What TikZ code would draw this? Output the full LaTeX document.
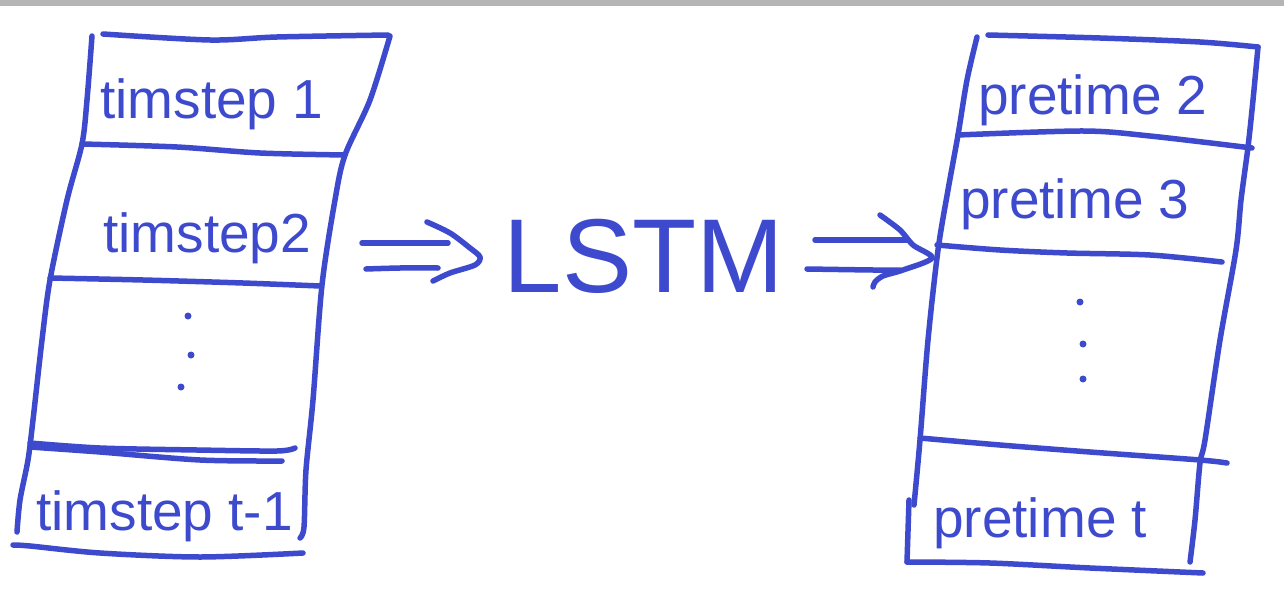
\documentclass[tikz,border=0pt]{standalone}
\usepackage{fontspec}
\setmainfont{Liberation Sans}
\definecolor{pen}{RGB}{62,74,206}
\definecolor{bar}{RGB}{180,181,180}
\tikzset{
  ink/.style={draw=pen, line width=5.5pt, line cap=round, line join=round},
  lbl/.style={text=pen, inner sep=0pt, anchor=base west, font=\fontsize{55}{60}\selectfont},
  bigword/.style={text=pen, inner sep=0pt, anchor=base, font=\fontsize{105}{110}\selectfont},
  dotmark/.style={fill=pen, draw=none}
}
\begin{document}
\begin{tikzpicture}[x=1pt, y=-1pt]
\useasboundingbox (0,0) rectangle (1284,615);
\fill[white] (0,0) rectangle (1284,615);
\fill[bar] (0,0) rectangle (1284,6);

% ---------- left column ----------
\draw[ink] plot[smooth, tension=0.5] coordinates {(103,34) (210,40) (277,37) (388,35)};
\draw[ink] plot[smooth, tension=0.5] coordinates {(92,36) (87,100) (82,144) (67,200) (50,280) (42,340) (33,420) (28,460) (20,500) (17,532)};
\draw[ink] plot[smooth, tension=0.5] coordinates {(390,36) (370,100) (345,155) (335,200) (322,285) (313,400) (306,470) (304,527) (300,538)};
\draw[ink] plot[smooth, tension=0.5] coordinates {(82,144) (177,147) (260,153) (345,155)};
\draw[ink] plot[smooth, tension=0.5] coordinates {(50,278) (143,280) (243,283) (320,286)};
\draw[ink] plot[smooth, tension=0.5] coordinates {(30,443) (100,448) (197,450) (277,451) (295,448)};
\draw[ink] plot[smooth, tension=0.5] coordinates {(30,447) (100,452) (200,460) (282,461)};
\draw[ink] plot[smooth, tension=0.5] coordinates {(13,545) (30,546) (100,553) (200,557) (303,553)};

\node[lbl] (t1) at (100,118) {timstep 1};
\node[lbl] (t2) at (103,252) {timstep2};
\node[lbl] (tn) at (36,530) {timstep t-1};

\fill[dotmark] (188,316) circle (3.5);
\fill[dotmark] (191,355) circle (3.5);
\fill[dotmark] (181,387) circle (3.5);

% ---------- arrows and LSTM ----------
\draw[ink] plot[smooth, tension=0.5] coordinates {(362,243) (448,243)};
\draw[ink] plot[smooth, tension=0.5] coordinates {(366,269) (400,268) (438,268)};
\draw[ink] plot[smooth, tension=0.5] coordinates {(427,222) (450,233) (470,248) (480,257) (475,265) (450,273) (433,281)};

\node[bigword] (lstm) at (644,292) {LSTM};

\draw[ink] plot[smooth, tension=0.5] coordinates {(815,240) (907,240)};
\draw[ink] plot[smooth, tension=0.5] coordinates {(807,269) (873,270) (900,270)};
\draw[ink] plot[smooth, tension=0.5] coordinates {(880,215) (900,230) (913,245) (932,258) (903,270) (883,276) (875,282) (873,287)};

% ---------- right column ----------
\draw[ink] plot[smooth, tension=0.5] coordinates {(988,35) (1100,38) (1200,42) (1258,47)};
\draw[ink] plot[smooth, tension=0.5] coordinates {(977,37) (967,80) (958,135) (948,190) (938,250) (928,340) (920,440) (914,505)};
\draw[ink] plot[smooth, tension=0.5] coordinates {(909,500) (907,562)};
\draw[ink] plot[smooth, tension=0.5] coordinates {(1258,47) (1253,100) (1248,147) (1241,200) (1236,250) (1220,340) (1205,440) (1200,463) (1195,520) (1190,562)};
\draw[ink] plot[smooth, tension=0.5] coordinates {(958,135) (1083,131) (1150,136) (1252,148)};
\draw[ink] plot[smooth, tension=0.5] coordinates {(937,245) (1000,250) (1067,253) (1150,255) (1222,262)};
\draw[ink] plot[smooth, tension=0.5] coordinates {(920,438) (1000,445) (1090,452) (1200,460) (1227,463)};
\draw[ink] plot[smooth, tension=0.5] coordinates {(907,562) (990,563) (1090,568) (1203,573)};

\node[lbl] (p2) at (978,115) {pretime 2};
\node[lbl] (p3) at (960,218) {pretime 3};
\node[lbl] (pt) at (933,537) {pretime t};

\fill[dotmark] (1080,302) circle (3.5);
\fill[dotmark] (1083,344) circle (3.5);
\fill[dotmark] (1083,379) circle (3.5);
\end{tikzpicture}
\end{document}
